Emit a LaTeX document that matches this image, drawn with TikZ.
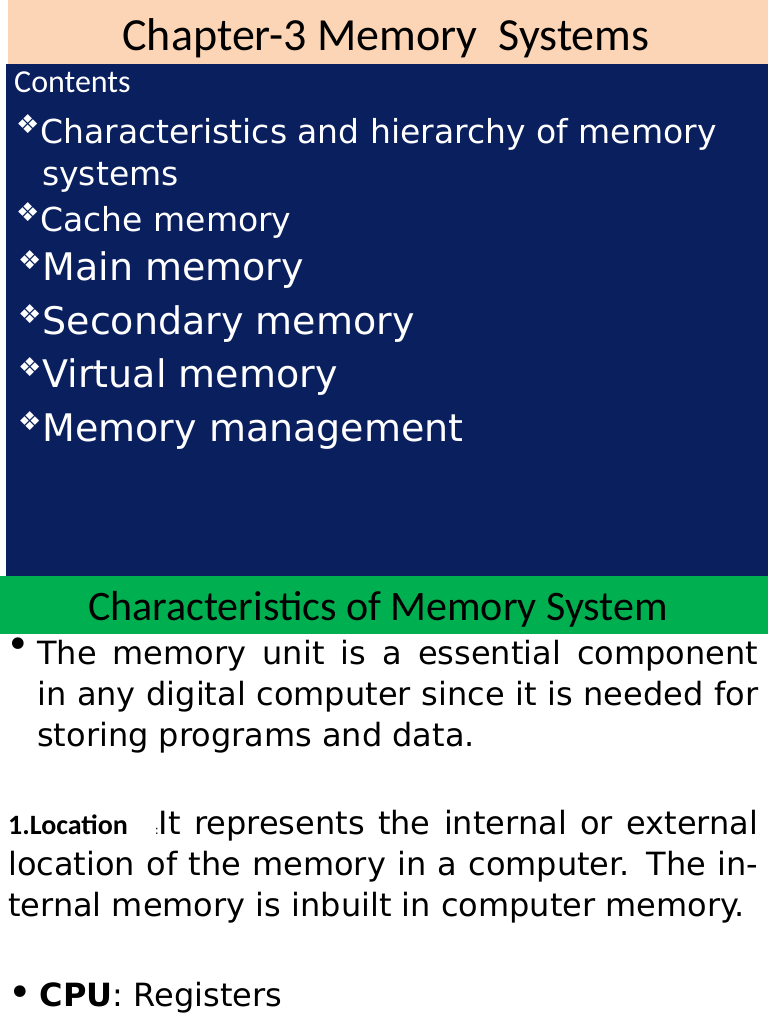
\documentclass[tikz,border=0pt]{standalone}
\usepackage{fontspec}
\setmainfont{DejaVu Sans}
\newfontfamily\carl{Carlito}
\definecolor{peach}{HTML}{FBD5B5}
\definecolor{navy}{HTML}{0A1F5E}
\definecolor{grn}{HTML}{00B050}
\newcommand{\dia}{\raisebox{0.3em}{\fontsize{26}{26}\selectfont ❖}\hspace{1pt}}
\newcommand{\nohy}{\hyphenpenalty=10000 \exhyphenpenalty=10000 \emergencystretch=200pt\relax}
\tikzset{item/.style={anchor=north west,inner sep=0pt,text=white,align=left},
 para/.style={anchor=north west,inner sep=0pt,align=justify,font=\fontsize{32}{41}\selectfont}}
\begin{document}
\begin{tikzpicture}[x=1pt,y=-1pt]
\useasboundingbox (0,0) rectangle (768,1024);
\fill[peach] (8,0) rectangle (768,64);
\node (title) at (386,38) {\carl\fontsize{46}{48}\selectfont Chapter-3 Memory\ \ Systems};
\fill[navy] (6,64) rectangle (768,576);
\node[item] (cont) at (14,72) {\carl\fontsize{32}{34}\selectfont Contents};
\node[item,font=\fontsize{33}{42}\selectfont] (i1) at (16,114) {\dia Characteristics and hierarchy of memory\\\hspace{26pt}systems};
\node[item,font=\fontsize{33}{40}\selectfont] (i2) at (16,202) {\dia Cache memory};
\node[item,font=\fontsize{38}{40}\selectfont] (i3) at (18,250) {\dia Main memory};
\node[item,font=\fontsize{38}{40}\selectfont] (i4) at (18,304) {\dia Secondary memory};
\node[item,font=\fontsize{38}{40}\selectfont] (i5) at (18,357) {\dia Virtual memory};
\node[item,font=\fontsize{38}{40}\selectfont] (i6) at (18,411) {\dia Memory management};
\fill[grn] (0,576) rectangle (768,634);
\node (sub) at (378,609) {\carl\fontsize{42}{44}\selectfont Characteristics of Memory System};
\node (b1) at (6,638) [anchor=north west,inner sep=0pt] {\fontsize{40}{40}\selectfont •};
\node[para,text width=721pt] (p1) at (37,640)
 {\nohy The memory unit is a essential component in any digital computer since it is needed for storing programs and data.};
\node[para,text width=750pt] (p2) at (8,810)
 {\nohy{\carl\bfseries\fontsize{28}{41}\selectfont 1.Location}\ \ {\fontsize{12}{12}\selectfont :}It represents the internal or external location of the memory in a computer. The internal memory is inbuilt in computer memory.};
\node (p3) at (8,982) [anchor=north west,inner sep=0pt] {\fontsize{32}{35}\selectfont {\fontsize{40}{35}\selectfont •}\hspace{8pt}\textbf{CPU}: Registers};
\end{tikzpicture}
\end{document}
